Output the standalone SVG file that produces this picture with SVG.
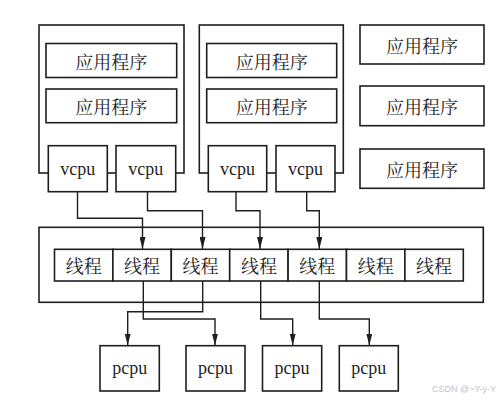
<svg xmlns="http://www.w3.org/2000/svg" width="501" height="401" viewBox="0 0 501 401">
<style>
.box{fill:#fff;stroke:#1e1e1e;stroke-width:1.6}
.frame{fill:none;stroke:#1e1e1e;stroke-width:1.6}
.cn{font-family:"Noto Serif CJK SC","Noto Sans CJK SC",serif;font-size:18px;fill:#1e1e1e;text-anchor:middle;dominant-baseline:central}
.en{font-family:"Liberation Serif",serif;font-size:18px;fill:#1e1e1e;text-anchor:middle;dominant-baseline:central}
.wire{fill:none;stroke:#1e1e1e;stroke-width:1.4;marker-end:url(#ah)}
.wm{font-family:"Liberation Sans",sans-serif;font-size:9px;fill:#c4c4c4}
</style>
<defs>
<marker id="ah" markerUnits="userSpaceOnUse" markerWidth="12" markerHeight="6" refX="12" refY="3" orient="auto">
<path d="M0,0 L12,3 L0,6 z" fill="#1e1e1e"/>
</marker>
</defs>
<rect width="501" height="401" fill="#fff"/>

<g id="vm1">
<rect class="frame" x="39" y="25" width="145" height="148"/>
<g id="vm1-app1"><rect class="box" x="46" y="43.5" width="130.7" height="34"/><text class="cn" x="111.3" y="60.5">应用程序</text></g>
<g id="vm1-app2"><rect class="box" x="46" y="89" width="130.7" height="33.7"/><text class="cn" x="111.3" y="106">应用程序</text></g>
<g id="vm1-vcpu1"><rect class="box" x="48.3" y="145.7" width="59" height="46"/><text class="en" x="77.8" y="168.5">vcpu</text></g>
<g id="vm1-vcpu2"><rect class="box" x="116" y="145.7" width="59.7" height="46"/><text class="en" x="145.8" y="168.5">vcpu</text></g>
</g>

<g id="vm2">
<rect class="frame" x="199.3" y="25" width="144" height="148"/>
<g id="vm2-app1"><rect class="box" x="206.7" y="43.5" width="130" height="34"/><text class="cn" x="271.7" y="60.5">应用程序</text></g>
<g id="vm2-app2"><rect class="box" x="206.7" y="89" width="130" height="33.7"/><text class="cn" x="271.7" y="106">应用程序</text></g>
<g id="vm2-vcpu1"><rect class="box" x="208.3" y="145.7" width="58.4" height="46"/><text class="en" x="237.5" y="168.5">vcpu</text></g>
<g id="vm2-vcpu2"><rect class="box" x="276" y="145.7" width="59" height="46"/><text class="en" x="305.5" y="168.5">vcpu</text></g>
</g>

<g id="app-r1"><rect class="box" x="360" y="25" width="124" height="39"/><text class="cn" x="422" y="44.5">应用程序</text></g>
<g id="app-r2"><rect class="box" x="360" y="86" width="124" height="39.7"/><text class="cn" x="422" y="106">应用程序</text></g>
<g id="app-r3"><rect class="box" x="360" y="149" width="124" height="39.3"/><text class="cn" x="422" y="168.5">应用程序</text></g>

<g id="host">
<rect class="frame" x="39" y="227.3" width="444.3" height="75"/>
</g>
<g id="thread1"><rect class="box" x="54.5" y="249.3" width="58.4" height="31.7"/><text class="cn" x="83.7" y="265.2">线程</text></g>
<g id="thread2"><rect class="box" x="112.9" y="249.3" width="58.4" height="31.7"/><text class="cn" x="142.1" y="265.2">线程</text></g>
<g id="thread3"><rect class="box" x="171.3" y="249.3" width="58.4" height="31.7"/><text class="cn" x="200.5" y="265.2">线程</text></g>
<g id="thread4"><rect class="box" x="229.7" y="249.3" width="58.4" height="31.7"/><text class="cn" x="258.9" y="265.2">线程</text></g>
<g id="thread5"><rect class="box" x="288.1" y="249.3" width="58.4" height="31.7"/><text class="cn" x="317.3" y="265.2">线程</text></g>
<g id="thread6"><rect class="box" x="346.5" y="249.3" width="58.4" height="31.7"/><text class="cn" x="375.7" y="265.2">线程</text></g>
<g id="thread7"><rect class="box" x="404.9" y="249.3" width="58.4" height="31.7"/><text class="cn" x="434.1" y="265.2">线程</text></g>

<g id="pcpu1"><rect class="box" x="100" y="345.7" width="59.3" height="45.3"/><text class="en" x="129.7" y="368">pcpu</text></g>
<g id="pcpu2"><rect class="box" x="186" y="345.7" width="59" height="45.3"/><text class="en" x="215.5" y="368">pcpu</text></g>
<g id="pcpu3"><rect class="box" x="262.5" y="345.7" width="59.2" height="45.3"/><text class="en" x="292.1" y="368">pcpu</text></g>
<g id="pcpu4"><rect class="box" x="339.3" y="345.7" width="59" height="45.3"/><text class="en" x="368.8" y="368">pcpu</text></g>

<g id="connectors">
<path class="wire" d="M77.5,191.7 V218.3 H142.5 V249"/>
<path class="wire" d="M147.5,191.7 V210.7 H202.5 V249"/>
<path class="wire" d="M236,191.7 V210.7 H260 V249"/>
<path class="wire" d="M306.7,191.7 V210.7 H319.3 V249"/>
<path class="wire" d="M143.3,281 V319 H215 V345.5"/>
<path class="wire" d="M202.7,281 V311.7 H127.7 V345.5"/>
<path class="wire" d="M260.7,281 V319 H292.7 V345.5"/>
<path class="wire" d="M319.3,281 V319 H369.3 V345.5"/>
</g>

<text class="wm" x="432" y="392">CSDN @~Y-y-Y</text>
</svg>
